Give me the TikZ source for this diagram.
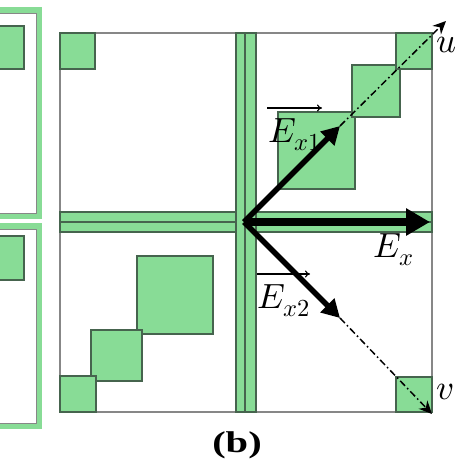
\documentclass[tikz,border=0pt]{standalone}
\usepackage{fontspec}
\usepackage{unicode-math}
\setmathfont{Latin Modern Math}
\newfontfamily\capfont{Liberation Serif}
\usetikzlibrary{arrows.meta}
\definecolor{cellgreen}{RGB}{136,220,150}
\definecolor{celledge}{RGB}{70,100,78}
\definecolor{framegray}{RGB}{135,135,135}
\tikzset{
  cell/.style={fill=cellgreen,draw=celledge,line width=1.1pt},
  band/.style={fill=cellgreen,draw=celledge,line width=1.1pt},
  frameline/.style={draw=framegray,line width=1.1pt},
  sideband/.style={draw=cellgreen,line width=6pt},
  sideline/.style={draw=framegray,line width=0.8pt},
  vecarrow/.style={line width=5.5pt,-{Triangle[length=18pt,width=19pt]}},
  mainarrow/.style={line width=8pt,-{Triangle[length=24pt,width=26pt]}},
  axisline/.style={line width=1.5pt,dash pattern=on 7pt off 3pt on 1.5pt off 3pt,-{Stealth[length=13pt,width=12pt]}},
  overarrow/.style={line width=1.1pt,-{To[length=5pt,width=7pt]}},
  lbl/.style={inner sep=0pt,font=\fontsize{35}{40}\selectfont}
}
\begin{document}
\begin{tikzpicture}[x=1pt,y=-1pt]
\useasboundingbox (0,0) rectangle (474,474);
\clip (0,0) rectangle (474,474);
% left partial panels
\draw[sideband] (-10,10) -- (38.5,10) -- (38.5,216) -- (-10,216);
\draw[sideline] (-10,13) -- (36,13) -- (36,213) -- (-10,213);
\fill[cellgreen] (-2,26) rectangle (24,69);
\draw[celledge,line width=1.1pt] (-2,26) -- (24,26) -- (24,69) -- (-2,69);
\draw[sideband] (-10,226) -- (38.5,226) -- (38.5,426) -- (-10,426);
\draw[sideline] (-10,229) -- (36,229) -- (36,423) -- (-10,423);
\fill[cellgreen] (-2,236) rectangle (24,280);
\draw[celledge,line width=1.1pt] (-2,236) -- (24,236) -- (24,280) -- (-2,280);
% main frame
\draw[frameline] (60,33) rectangle (432,412);
% squares top-left
\draw[cell] (60,33) rectangle (95,69);
% top-right staircase
\draw[cell] (278,112) rectangle (355,189);
\draw[cell] (352,65) rectangle (400,117);
\draw[cell] (396,33) rectangle (432,69);
% bottom-left staircase
\draw[cell] (137,256) rectangle (213,334);
\draw[cell] (91,330) rectangle (142,381);
\draw[cell] (60,376) rectangle (96,412);
% bottom-right
\draw[cell] (396,377) rectangle (432,412);
% bands
\draw[band] (60,212) rectangle (432,232);
\draw[celledge,line width=1.1pt] (60,222) -- (432,222);
\draw[band] (236,33) rectangle (256,412);
\draw[celledge,line width=1.1pt] (245,33) -- (245,412);
% vectors
\coordinate (O) at (244,222);
\coordinate (Tx) at (430,222);
\coordinate (T1) at (340,126);
\coordinate (T2) at (340,318);
\coordinate (U) at (446,21);
\coordinate (V) at (432,414);
\draw[axisline] (T1) -- (U);
\draw[axisline] (T2) -- (V);
\draw[vecarrow] (O) -- (T1);
\draw[vecarrow] (O) -- (T2);
\draw[mainarrow] (O) -- (Tx);
% labels
\node[lbl,anchor=base west] (lE1) at (268,142) {$E_{x1}$};
\node[lbl,anchor=base west] (lEx) at (373,257) {$E_{x}$};
\node[lbl,anchor=base west] (lE2) at (257,308) {$E_{x2}$};
\node[lbl,anchor=base west] (lu) at (436,52) {$u$};
\node[lbl,anchor=base west] (lv) at (436,399) {$v$};
\coordinate (a1s) at (267,108);
\coordinate (a1e) at (322,108);
\coordinate (a2s) at (257,274);
\coordinate (a2e) at (310,274);
\draw[overarrow] (a1s) -- (a1e);
\draw[overarrow] (a2s) -- (a2e);
\node[inner sep=0pt] (cap) at (237,445) {\scalebox{1.35}[1]{\capfont\bfseries\fontsize{30}{34}\selectfont (b)}};
\end{tikzpicture}
\end{document}
